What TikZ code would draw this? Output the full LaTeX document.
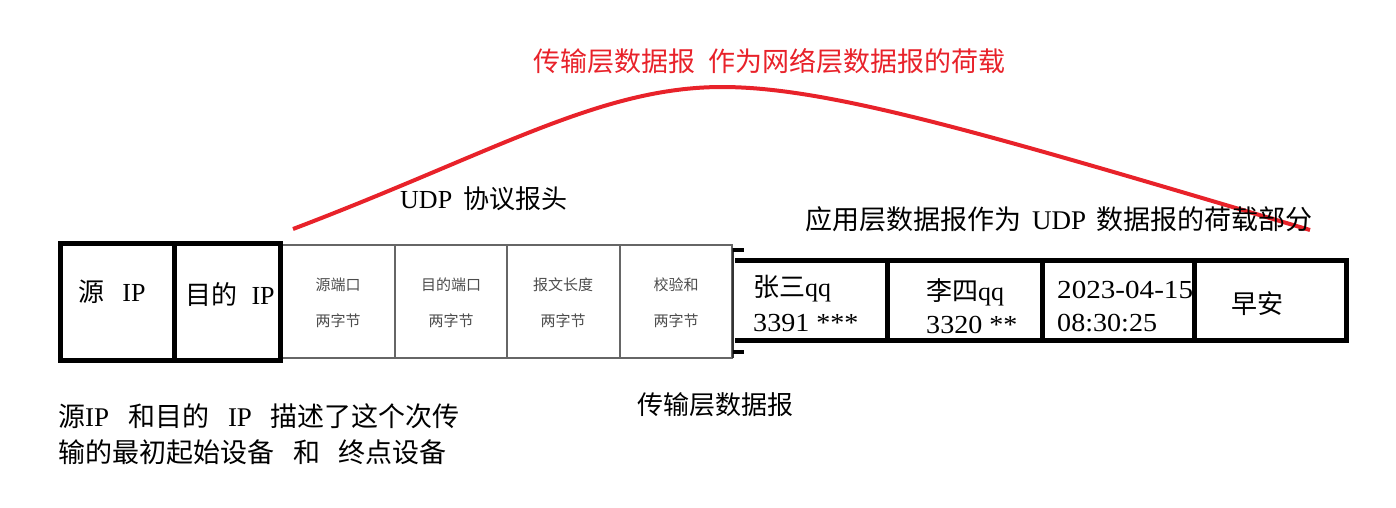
\documentclass[tikz,border=0pt]{standalone}
\usepackage{fontspec}
\setmainfont{Noto Sans CJK SC}
\newfontfamily\lat{Liberation Serif}
\definecolor{curvered}{HTML}{E8222A}
\begin{document}
\begin{tikzpicture}[x=1pt,y=-1pt,
  thickline/.style={draw=black,line width=5pt},
  thincell/.style={draw=black!60,line width=1.2pt},
  bracketline/.style={draw=black!80,line width=1.2pt},
  bracketcap/.style={draw=black,line width=3.5pt},
  bigtext/.style={font=\fontsize{26}{30}\selectfont,inner sep=0pt},
  widetext/.style={font=\fontsize{27}{31}\selectfont,inner sep=0pt},
  celltext/.style={font=\fontsize{15}{18}\selectfont,text=black!70,inner sep=0pt},
  redcurve/.style={draw=curvered,line width=4pt},
  redtext/.style={font=\fontsize{27}{31}\selectfont,text=curvered,inner sep=0pt}]
\useasboundingbox (0,0) rectangle (1396,507);

% red title and curve
\node[redtext,anchor=west] (title) at (533,61) {传输层数据报\hspace{0.5em}作为网络层数据报的荷载};
\coordinate (cs) at (293,229);
\coordinate (cp) at (722,87);
\coordinate (ce) at (1310,230);
\draw[redcurve] (cs) .. controls (493,153) and (600,87) .. (cp)
                     .. controls (830,87) and (990,135) .. (ce);

% labels above
\node[bigtext,anchor=west] (udphead) at (400,199) {{\lat UDP}\hspace{0.45em}协议报头};
\node[widetext,anchor=west] (appload) at (805,219) {应用层数据报作为\hspace{0.4em}{\lat UDP}\hspace{0.4em}数据报的荷载部分};

% UDP header cells (thin)
\draw[thincell] (282,245) rectangle (732,358);
\draw[thincell] (395,245) -- (395,358);
\draw[thincell] (507,245) -- (507,358);
\draw[thincell] (620,245) -- (620,358);
\node[celltext] (c1a) at (338,285) {源端口};
\node[celltext] (c1b) at (338,321) {两字节};
\node[celltext] (c2a) at (451,285) {目的端口};
\node[celltext] (c2b) at (451,321) {两字节};
\node[celltext] (c3a) at (563,285) {报文长度};
\node[celltext] (c3b) at (563,321) {两字节};
\node[celltext] (c4a) at (676,285) {校验和};
\node[celltext] (c4b) at (676,321) {两字节};

% IP cells (thick)
\draw[thickline] (60,243) rectangle (280,360);
\draw[thickline] (174,243) -- (174,360);
\node[bigtext,anchor=west] (srcip) at (78,292) {源\hspace{0.7em}{\lat IP}};
\node[bigtext,anchor=west] (dstip) at (185,294) {目的\hspace{0.55em}{\lat IP}};

% application data
\node[bigtext,anchor=west] (zs1) at (753,289) {张三{\lat qq}};
\node[bigtext,anchor=west,xscale=1.08,transform shape] (zs2) at (753,323) {\lat 3391 ***};
\node[bigtext,anchor=west] (ls1) at (926,292) {李四{\lat qq}};
\node[bigtext,anchor=west,xscale=1.08,transform shape] (ls2) at (926,325) {\lat 3320 **};
\node[bigtext,anchor=west,xscale=1.12,transform shape] (dt1) at (1057,290) {\lat 2023-04-15};
\node[bigtext,anchor=west,xscale=1.08,transform shape] (dt2) at (1057,323) {\lat 08:30:25};
\node[bigtext] (za) at (1257,304) {早安};

\draw[bracketline] (733,248) -- (733,358);
\draw[bracketcap] (733,250) -- (744,250);
\draw[bracketcap] (733,352) -- (744,352);
\draw[thickline] (735,260) -- (1346,260) -- (1346,340) -- (735,340);
\draw[thickline] (887,260) -- (887,340);
\draw[thickline] (1042,260) -- (1042,340);
\draw[thickline] (1194,260) -- (1194,340);

% labels below
\node[bigtext,anchor=west] (tl) at (637,405) {传输层数据报};
\node[widetext,anchor=west] (note1) at (58,416) {源{\lat IP}\hspace{0.7em}和目的\hspace{0.7em}{\lat IP}\hspace{0.7em}描述了这个次传};
\node[widetext,anchor=west] (note2) at (58,452) {输的最初起始设备\hspace{0.7em}和\hspace{0.7em}终点设备};
\end{tikzpicture}
\end{document}
